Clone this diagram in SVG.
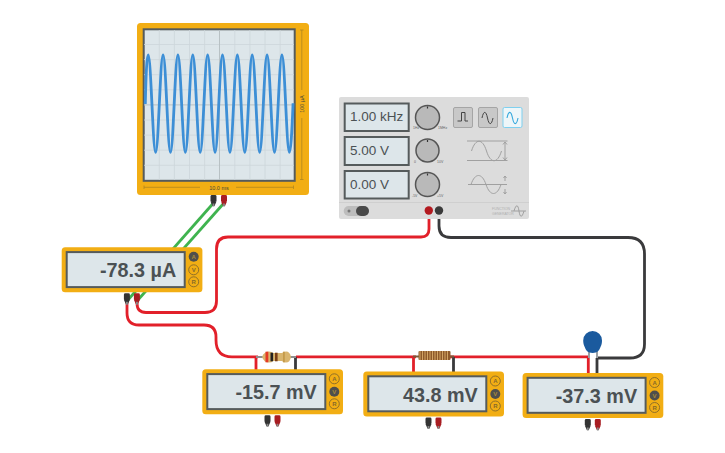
<svg xmlns="http://www.w3.org/2000/svg" xmlns:xlink="http://www.w3.org/1999/xlink" width="725" height="453" viewBox="0 0 725 453">
<style>
text{font-family:"Liberation Sans",Arial,sans-serif;fill:#4b5154}
.val{font-size:19.8px;font-weight:700;text-anchor:end}
.fg{font-size:13.500px}
.tiny{font-size:3.500px;fill:#666}
.wire{fill:none;stroke-width:2.800;stroke-linejoin:round}
.red{stroke:#e2202a}.blk{stroke:#3a3a3c}.grn{stroke:#3fb34f}
.body{fill:#f2ae14}
.lcd{fill:#dde6ea;stroke:#555b5c;stroke-width:2}
.grid{stroke:#cdd6da;stroke-width:.8}
.btn{fill:none;stroke:#86692a;stroke-width:.9}
.on{fill:#4f4f4c}
.ltr{font-size:6px;font-weight:700;text-anchor:middle;fill:#86692a}
.ltr2{font-size:6px;font-weight:700;text-anchor:middle;fill:#a88a3a}
.knob{fill:#b9b9b9;stroke:#555;stroke-width:1.500}
.sym{fill:none;stroke:#a0a0a0;stroke-width:1}
.tick{stroke:#a98322;stroke-width:.7}
</style>
<defs>
<g id="pb"><rect x="-3" y="0" width="6" height="7" rx="1.400" fill="#333"/><path d="M-3 6.500H3L1 11H-1Z" fill="#333"/><rect x="-.9" y="8.500" width="1.800" height="3" fill="#888"/></g>
<g id="pr"><rect x="-3" y="0" width="6" height="7" rx="1.400" fill="#a81d22"/><path d="M-3 6.500H3L1 11H-1Z" fill="#a81d22"/><rect x="-.9" y="8.500" width="1.800" height="3" fill="#888"/></g>
<g id="mb">
<rect width="140.700" height="45" rx="3.500" class="body"/>
<rect x="5" y="4.800" width="118" height="35" class="lcd"/>
<use xlink:href="#pb" href="#pb" x="65.200" y="46"/>
<use xlink:href="#pr" href="#pr" x="75.200" y="46"/>
</g>
</defs>
<rect width="725" height="453" fill="#fff"/>

<g id="connectors">
<path class="wire grn" d="M213.500 203L127 301"/>
<path class="wire grn" d="M224 203L137 301"/>
<path class="wire red" d="M429 214V229Q429 237 421 237H228Q216.500 237 216.500 249V301Q216.500 312.500 205 312.500H146Q137 312.500 137 303V298"/>
<path class="wire red" d="M127 298V313Q127 325 139 325H204Q216 325 216 337V340Q216 356.800 232 356.800H258"/>
<path class="wire red" d="M296 356.800H416M450 356.800H589"/>
<path class="wire blk" d="M439 214V226Q439 237.500 451 237.500H628Q644.500 237.500 644.500 254V344Q644.500 358 630 358H597"/>
<path class="wire red" d="M256 357V370M413.500 357V372M588.300 357V374"/>
<path class="wire blk" d="M295.500 357V370M453.500 357V372M597 358V374"/>
</g>

<g id="oscilloscope">
<rect x="137" y="23" width="172" height="172" rx="3.500" class="body"/>
<rect x="143.700" y="29.300" width="151" height="151.500" fill="#dde6ea" stroke="#555b5c" stroke-width="2"/>
<path class="grid" d="M159.300 30V180M174.400 30V180M189.500 30V180M204.600 30V180M234.800 30V180M249.900 30V180M265 30V180M280.100 30V180M144 44.500H294M144 59.600H294M144 74.700H294M144 89.800H294M144 120H294M144 135.100H294M144 150.200H294M144 165.300H294"/>
<path d="M219.500 30V180M144 104.900H294" stroke="#b8c1c4" stroke-width="1"/>
<path fill="none" stroke="#3d8fd6" stroke-width="2.800" d="M145.300 104c.7-30 1.500-49 2.900-49c2.710 0 4.720 97.300 7.430 97.300c2.710 0 4.720-97.300 7.430-97.300c2.710 0 4.720 97.300 7.430 97.300c2.710 0 4.720-97.300 7.430-97.300c2.710 0 4.720 97.300 7.430 97.300c2.710 0 4.720-97.300 7.430-97.300c2.710 0 4.720 97.300 7.430 97.300c2.710 0 4.720-97.300 7.430-97.300c2.710 0 4.720 97.300 7.430 97.300c2.710 0 4.720-97.300 7.430-97.300c2.710 0 4.720 97.300 7.430 97.300c2.710 0 4.720-97.300 7.430-97.300c2.710 0 4.720 97.300 7.430 97.300c2.710 0 4.720-97.300 7.430-97.300c2.710 0 4.720 97.300 7.430 97.300c2.710 0 4.720-97.300 7.430-97.300c2.710 0 4.720 97.300 7.430 97.300c2.710 0 4.720-97.300 7.430-97.300c2.710 0 4.720 97.300 7.430 97.300c1.300 0 2.500-18 3.700-49"/>
<path class="tick" fill="none" d="M144 185.500V189M144 187.300H200M236 187.300H293.500M293.500 185.500V189M300 30H303.500M301.800 30V90M301.800 118V179.500M300 179.500H303.500"/>
<text x="219" y="190" font-size="5.500" text-anchor="middle" style="fill:#4b4b3a">10.0 ms</text>
<text transform="translate(303.800 104) rotate(-90)" font-size="5.500" text-anchor="middle" style="fill:#4b4b3a">100 µA</text>
<use xlink:href="#pb" href="#pb" x="213.500" y="195"/>
<use xlink:href="#pr" href="#pr" x="224" y="195"/>
</g>

<g id="function-generator">
<rect x="339" y="97" width="190" height="122" rx="2" fill="#dcdcdc"/>
<path d="M339 202.500H529" stroke="#cfcfcf" stroke-width="1"/>
<rect x="344.700" y="103.500" width="64" height="27.500" class="lcd"/>
<rect x="344.700" y="137" width="64" height="28" class="lcd"/>
<rect x="344.700" y="171" width="64" height="27.500" class="lcd"/>
<text x="350" y="121" class="fg">1.00 kHz</text>
<text x="350" y="155" class="fg">5.00 V</text>
<text x="350" y="189" class="fg">0.00 V</text>
<circle cx="427.500" cy="117.500" r="12" class="knob"/><circle cx="427.500" cy="150.500" r="11.500" class="knob"/><circle cx="427.500" cy="184.500" r="12" class="knob"/>
<path d="M427.500 106.500v2M427.500 140v2M427.500 173.500v2" stroke="#333" stroke-width="1.200"/>
<text x="413" y="129" class="tiny">1Hz</text><text x="438" y="129" class="tiny">1MHz</text>
<text x="414" y="163" class="tiny">0</text><text x="437" y="163" class="tiny">10V</text>
<text x="412" y="197" class="tiny">-5V</text><text x="437" y="197" class="tiny">+5V</text>
<rect x="453.500" y="107.500" width="19" height="20" rx="1.500" fill="#c8c8c8" stroke="#a5a5a5"/>
<rect x="478.500" y="107.500" width="19" height="20" rx="1.500" fill="#c8c8c8" stroke="#a5a5a5"/>
<rect x="503" y="107.500" width="19" height="20" rx="1.500" fill="#eef6f9" stroke="#7fd0ef"/>
<path d="M457.500 121h4v-8.500h3.500v8.500h3" fill="none" stroke="#444" stroke-width="1"/>
<path d="M482 118c1.500-7.500 4-7.500 5.500 0s4 7.500 5.500 0" fill="none" stroke="#444" stroke-width="1"/>
<path d="M507 118c1.500-7.500 4-7.500 5.500 0s4 7.500 5.500 0" fill="none" stroke="#35a8dd" stroke-width="1.100"/>
<path class="sym" d="M467 141H507.500M467 160.500H507.500M471.500 151c4-13 11-13 15 0s11 13 15 0M505 142V160M503 144.500l2-2.500 2 2.500M503 157.500l2 2.500 2-2.500"/>
<path class="sym" d="M468 184.500H507M471 184.500c4-12 11-12 15 0s11 12 15 0M505 176v5M505 189v5M503.500 178l1.500-2 1.500 2M503.500 192l1.500 2 1.500-2"/>
<rect x="343.700" y="206" width="25" height="10" rx="5" fill="#bdbdbd"/>
<circle cx="349" cy="211" r="1.500" fill="#777"/>
<rect x="356" y="206" width="13" height="10" rx="5" fill="#4a4a4a"/>
<path class="sym" stroke-width=".6" d="M511 211H526M514 211c2-7 4-7 5 0s3 7 5 0"/>
<text x="492" y="210" font-size="3.500" style="fill:#b0b0b0">FUNCTION</text>
<text x="492" y="214.500" font-size="3.500" style="fill:#b0b0b0">GENERATOR</text>
<circle cx="428.800" cy="210.500" r="4.200" fill="#b3191f"/><circle cx="439" cy="210.500" r="4.200" fill="#3a3a3a"/>
</g>

<g id="resistor">
<path d="M256 357H263M289 357H296" stroke="#8f8f8f" stroke-width="2.200"/>
<path d="M262 357q2-5.500 7-5.500q3 0 4 1.500h9q1-1.500 4-1.500q4 0 5 5.500q-1 5.500-5 5.500q-3 0-4-1.500h-9q-1 1.500-4 1.500q-5 0-7-5.500z" fill="#d9b56e"/>
<rect x="265.500" y="351.700" width="2.800" height="10.600" fill="#e53a25"/>
<rect x="270.500" y="352.700" width="2.600" height="8.600" fill="#222"/>
<rect x="275" y="352.700" width="2.600" height="8.600" fill="#7a3f18"/>
<rect x="283" y="351.700" width="1.800" height="10.600" fill="#c49a4a"/>
</g>
<g id="inductor">
<path d="M413 356.500H454" stroke="#7a5a3a" stroke-width="2"/>
<rect x="418.500" y="351" width="32" height="9" rx="1" fill="#8e5a2b"/>
<path d="M420 351v9M422.500 351v9M425 351v9M427.500 351v9M430 351v9M432.500 351v9M435 351v9M437.500 351v9M440 351v9M442.500 351v9M445 351v9M447.500 351v9" stroke="#d2a565" stroke-width="1"/>
</g>
<g id="capacitor">
<path d="M589 350V358M597 350V358" stroke="#9aa0a5" stroke-width="2"/>
<path d="M592.700 353c-5 0-7-3-8-6c-1-2-1.500-4-1.500-6.500a9.400 9.400 0 0 1 18.800 0c0 2.500-.5 4.500-1.500 6.500c-1 3-3 6-7.800 6z" fill="#1a5a9e"/>
</g>

<g id="ammeter" transform="translate(61.700 247.300)">
<use xlink:href="#mb" href="#mb"/>
<text x="114.500" y="30" class="val">-78.3 µA</text>
<circle cx="132" cy="9.500" r="5" class="on"/><circle cx="132" cy="22.500" r="5" class="btn"/><circle cx="132" cy="34.500" r="5" class="btn"/>
<text x="132" y="11.600" class="ltr2">A</text><text x="132" y="24.600" class="ltr">V</text><text x="132" y="36.600" class="ltr">R</text>
</g>
<g id="meter-r" transform="translate(202.300 369.300)">
<use xlink:href="#mb" href="#mb"/>
<text x="114.500" y="30" class="val">-15.7 mV</text>
<circle cx="132" cy="9.500" r="5" class="btn"/><circle cx="132" cy="22.500" r="5" class="on"/><circle cx="132" cy="34.500" r="5" class="btn"/>
<text x="132" y="11.600" class="ltr">A</text><text x="132" y="24.600" class="ltr2">V</text><text x="132" y="36.600" class="ltr">R</text>
</g>
<g id="meter-l" transform="translate(363.300 371.500)">
<use xlink:href="#mb" href="#mb"/>
<text x="114.500" y="30" class="val">43.8 mV</text>
<circle cx="132" cy="9.500" r="5" class="btn"/><circle cx="132" cy="22.500" r="5" class="on"/><circle cx="132" cy="34.500" r="5" class="btn"/>
<text x="132" y="11.600" class="ltr">A</text><text x="132" y="24.600" class="ltr2">V</text><text x="132" y="36.600" class="ltr">R</text>
</g>
<g id="meter-c" transform="translate(522.600 373)">
<use xlink:href="#mb" href="#mb"/>
<text x="114.500" y="30" class="val">-37.3 mV</text>
<circle cx="132" cy="9.500" r="5" class="btn"/><circle cx="132" cy="22.500" r="5" class="on"/><circle cx="132" cy="34.500" r="5" class="btn"/>
<text x="132" y="11.600" class="ltr">A</text><text x="132" y="24.600" class="ltr2">V</text><text x="132" y="36.600" class="ltr">R</text>
</g>
</svg>
